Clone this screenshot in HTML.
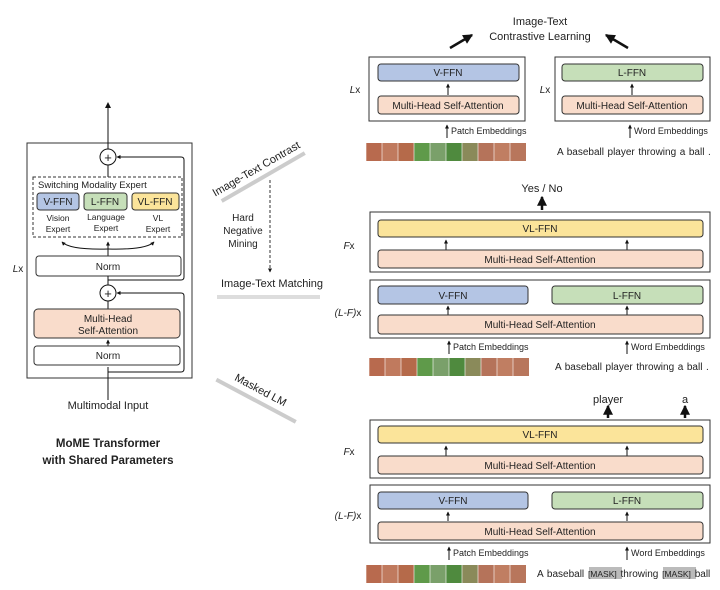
<!DOCTYPE html>
<html><head><meta charset="utf-8"><style>
body{margin:0;background:#fff;}
svg text{font-family:"Liberation Sans",sans-serif;fill:#222;}
</style></head><body>
<svg width="720" height="585" viewBox="0 0 720 585" xmlns="http://www.w3.org/2000/svg">
<defs>
<marker id="a" markerWidth="6" markerHeight="6" refX="5" refY="3" orient="auto"><path d="M0,0 L6,3 L0,6 z" fill="#111"/></marker>
<marker id="b" markerWidth="4" markerHeight="4" refX="3.5" refY="2" orient="auto"><path d="M0,0 L4,2 L0,4 z" fill="#111"/></marker>
<g id="tiles">
<rect x="0" y="0" width="16" height="18" fill="#b86a4e"/><rect x="16" y="0" width="16" height="18" fill="#c07a5e"/><rect x="32" y="0" width="16" height="18" fill="#b56a4a"/>
<rect x="48" y="0" width="16" height="18" fill="#5f9a4a"/><rect x="64" y="0" width="16" height="18" fill="#7aa06a"/><rect x="80" y="0" width="16" height="18" fill="#4f8a3e"/>
<rect x="96" y="0" width="16" height="18" fill="#8a8a5a"/><rect x="112" y="0" width="16" height="18" fill="#b5735a"/><rect x="128" y="0" width="16" height="18" fill="#c07e62"/><rect x="144" y="0" width="16" height="18" fill="#b8765c"/>
<g stroke="#fff" stroke-width="0.6"><line x1="0" y1="0" x2="0" y2="18"/><line x1="16" y1="0" x2="16" y2="18"/><line x1="32" y1="0" x2="32" y2="18"/><line x1="48" y1="0" x2="48" y2="18"/><line x1="64" y1="0" x2="64" y2="18"/><line x1="80" y1="0" x2="80" y2="18"/><line x1="96" y1="0" x2="96" y2="18"/><line x1="112" y1="0" x2="112" y2="18"/><line x1="128" y1="0" x2="128" y2="18"/><line x1="144" y1="0" x2="144" y2="18"/></g>
</g>
</defs>
<g font-size="10" text-anchor="middle" stroke-width="1">
<!-- LEFT -->
<rect x="27" y="143" width="165" height="235" fill="none" stroke="#333"/>
<line x1="108" y1="378" x2="108" y2="367" stroke="#111"/>
<line x1="108" y1="400" x2="108" y2="378" stroke="#111"/>
<line x1="108" y1="149" x2="108" y2="103" stroke="#111" marker-end="url(#a)"/>
<circle cx="108" cy="157" r="8" fill="#fff" stroke="#111"/><text x="108" y="162" font-size="13">+</text>
<line x1="108" y1="165" x2="108" y2="177" stroke="#111"/>
<rect x="33" y="177" width="149" height="60" fill="none" stroke="#333" stroke-dasharray="3,2"/>
<text x="38" y="188" text-anchor="start" font-size="9.5">Switching Modality Expert</text>
<rect x="37" y="193" width="42" height="17" rx="3" fill="#b4c5e4" stroke="#333"/><text x="58" y="205">V-FFN</text>
<rect x="84" y="193" width="43" height="17" rx="3" fill="#c6dfb9" stroke="#333"/><text x="105" y="205">L-FFN</text>
<rect x="132" y="193" width="47" height="17" rx="3" fill="#fbe49a" stroke="#333"/><text x="155" y="205">VL-FFN</text>
<g font-size="8.5"><text x="58" y="221">Vision</text><text x="58" y="232">Expert</text><text x="106" y="220">Language</text><text x="106" y="231">Expert</text><text x="158" y="221">VL</text><text x="158" y="232">Expert</text></g>
<line x1="108" y1="256" x2="108" y2="242" stroke="#111" marker-end="url(#b)"/>
<path d="M108,249 Q70,250 62,242" fill="none" stroke="#111" marker-end="url(#b)"/>
<path d="M108,249 Q146,250 154,242" fill="none" stroke="#111" marker-end="url(#b)"/>
<rect x="36" y="256" width="145" height="20" rx="3" fill="#fff" stroke="#333"/><text x="108" y="270">Norm</text>
<line x1="108" y1="276" x2="108" y2="285" stroke="#111"/>
<circle cx="108" cy="293" r="8" fill="#fff" stroke="#111"/><text x="108" y="298" font-size="13">+</text>
<line x1="108" y1="301" x2="108" y2="309" stroke="#111"/>
<path d="M108,280 L181,280 Q184,280 184,277 L184,160 Q184,157 181,157 L117,157" fill="none" stroke="#111" marker-end="url(#b)"/>
<rect x="34" y="309" width="146" height="29" rx="4" fill="#f9dccb" stroke="#333"/><text x="108" y="322">Multi-Head</text><text x="108" y="334">Self-Attention</text>
<line x1="108" y1="346" x2="108" y2="340" stroke="#111" marker-end="url(#b)"/>
<rect x="34" y="346" width="146" height="19" rx="3" fill="#fff" stroke="#333"/><text x="108" y="359">Norm</text>
<path d="M108,372 L181,372 Q184,372 184,369 L184,296 Q184,293 181,293 L117,293" fill="none" stroke="#111" marker-end="url(#b)"/>
<text x="18" y="272" font-family="Liberation Serif" font-style="italic">L<tspan font-style="normal" font-family="Liberation Sans">x</tspan></text>
<text x="108" y="409" font-size="11">Multimodal Input</text>
<text x="108" y="447" font-size="11.5" font-weight="bold">MoME Transformer</text>
<text x="108" y="464" font-size="11.5" font-weight="bold">with Shared Parameters</text>

<!-- MIDDLE -->
<g transform="rotate(-30 258 172)"><text x="258" y="172" font-size="11">Image-Text Contrast</text><rect x="212" y="177" width="96" height="4" fill="#ccc"/></g>
<line x1="270" y1="180" x2="270" y2="272" stroke="#333" stroke-dasharray="3,2" marker-end="url(#b)"/>
<text x="243" y="221">Hard</text><text x="243" y="234">Negative</text><text x="243" y="247">Mining</text>
<text x="272" y="287" font-size="11">Image-Text Matching</text>
<rect x="217" y="295" width="103" height="4" fill="#ddd"/>
<g transform="rotate(28 258 395)"><text x="258" y="393" font-size="11">Masked LM</text><rect x="214" y="399" width="90" height="4" fill="#ccc"/></g>

<!-- TOP RIGHT -->
<text x="540" y="25" font-size="11">Image-Text</text><text x="540" y="40" font-size="11">Contrastive Learning</text>
<line x1="450" y1="48" x2="472" y2="35" stroke="#111" stroke-width="2.5" marker-end="url(#b)"/>
<line x1="628" y1="48" x2="606" y2="35" stroke="#111" stroke-width="2.5" marker-end="url(#b)"/>
<rect x="369" y="57" width="156" height="64" fill="none" stroke="#333"/>
<rect x="378" y="64" width="141" height="17" rx="3" fill="#b4c5e4" stroke="#333"/><text x="448" y="76">V-FFN</text>
<line x1="448" y1="95" x2="448" y2="84" stroke="#111" marker-end="url(#b)"/>
<rect x="378" y="96" width="141" height="18" rx="3" fill="#f9dccb" stroke="#333"/><text x="448" y="109">Multi-Head Self-Attention</text>
<rect x="555" y="57" width="155" height="64" fill="none" stroke="#333"/>
<rect x="562" y="64" width="141" height="17" rx="3" fill="#c6dfb9" stroke="#333"/><text x="632" y="76">L-FFN</text>
<line x1="632" y1="95" x2="632" y2="84" stroke="#111" marker-end="url(#b)"/>
<rect x="562" y="96" width="141" height="18" rx="3" fill="#f9dccb" stroke="#333"/><text x="632" y="109">Multi-Head Self-Attention</text>
<g font-family="Liberation Serif" font-style="italic"><text x="355" y="93">L<tspan font-style="normal" font-family="Liberation Sans">x</tspan></text><text x="545" y="93">L<tspan font-style="normal" font-family="Liberation Sans">x</tspan></text></g>
<line x1="447" y1="138" x2="447" y2="125" stroke="#111" marker-end="url(#b)"/><text x="451" y="134" text-anchor="start" font-size="9">Patch Embeddings</text>
<line x1="630" y1="138" x2="630" y2="125" stroke="#111" marker-end="url(#b)"/><text x="634" y="134" text-anchor="start" font-size="9">Word Embeddings</text>
<use href="#tiles" x="366" y="143"/>
<text x="557" y="155" text-anchor="start" font-size="10" word-spacing="0.8">A baseball player throwing a ball .</text>

<!-- MIDDLE RIGHT -->
<text x="542" y="192" font-size="11">Yes / No</text>
<line x1="542" y1="210" x2="542" y2="197" stroke="#111" stroke-width="2.5" marker-end="url(#b)"/>
<rect x="370" y="212" width="340" height="60" fill="none" stroke="#333"/>
<rect x="378" y="220" width="325" height="17" rx="3" fill="#fbe49a" stroke="#333"/><text x="540" y="232">VL-FFN</text>
<line x1="446" y1="250" x2="446" y2="240" stroke="#111" marker-end="url(#b)"/><line x1="627" y1="250" x2="627" y2="240" stroke="#111" marker-end="url(#b)"/>
<rect x="378" y="250" width="325" height="18" rx="3" fill="#f9dccb" stroke="#333"/><text x="540" y="263">Multi-Head Self-Attention</text>
<rect x="370" y="280" width="340" height="58" fill="none" stroke="#333"/>
<rect x="378" y="286" width="150" height="18" rx="3" fill="#b4c5e4" stroke="#333"/><text x="453" y="299">V-FFN</text>
<rect x="552" y="286" width="151" height="18" rx="3" fill="#c6dfb9" stroke="#333"/><text x="627" y="299">L-FFN</text>
<line x1="448" y1="315" x2="448" y2="306" stroke="#111" marker-end="url(#b)"/><line x1="627" y1="315" x2="627" y2="306" stroke="#111" marker-end="url(#b)"/>
<rect x="378" y="315" width="325" height="19" rx="3" fill="#f9dccb" stroke="#333"/><text x="540" y="328">Multi-Head Self-Attention</text>
<g font-family="Liberation Serif" font-style="italic"><text x="349" y="249">F<tspan font-style="normal" font-family="Liberation Sans">x</tspan></text><text x="348" y="316">(L-F)<tspan font-style="normal" font-family="Liberation Sans">x</tspan></text></g>
<line x1="449" y1="354" x2="449" y2="341" stroke="#111" marker-end="url(#b)"/><text x="453" y="350" text-anchor="start" font-size="9">Patch Embeddings</text>
<line x1="627" y1="354" x2="627" y2="341" stroke="#111" marker-end="url(#b)"/><text x="631" y="350" text-anchor="start" font-size="9">Word Embeddings</text>
<use href="#tiles" x="369" y="358"/>
<text x="555" y="370" text-anchor="start" font-size="10" word-spacing="0.8">A baseball player throwing a ball .</text>

<!-- BOTTOM RIGHT -->
<text x="608" y="403" font-size="11">player</text><text x="685" y="403" font-size="11">a</text>
<line x1="608" y1="418" x2="608" y2="406" stroke="#111" stroke-width="2.5" marker-end="url(#b)"/>
<line x1="685" y1="418" x2="685" y2="406" stroke="#111" stroke-width="2.5" marker-end="url(#b)"/>
<rect x="370" y="420" width="340" height="58" fill="none" stroke="#333"/>
<rect x="378" y="426" width="325" height="17" rx="3" fill="#fbe49a" stroke="#333"/><text x="540" y="438">VL-FFN</text>
<line x1="446" y1="456" x2="446" y2="446" stroke="#111" marker-end="url(#b)"/><line x1="627" y1="456" x2="627" y2="446" stroke="#111" marker-end="url(#b)"/>
<rect x="378" y="456" width="325" height="18" rx="3" fill="#f9dccb" stroke="#333"/><text x="540" y="469">Multi-Head Self-Attention</text>
<rect x="370" y="485" width="340" height="58" fill="none" stroke="#333"/>
<rect x="378" y="492" width="150" height="17" rx="3" fill="#b4c5e4" stroke="#333"/><text x="453" y="504">V-FFN</text>
<rect x="552" y="492" width="151" height="17" rx="3" fill="#c6dfb9" stroke="#333"/><text x="627" y="504">L-FFN</text>
<line x1="448" y1="521" x2="448" y2="512" stroke="#111" marker-end="url(#b)"/><line x1="627" y1="521" x2="627" y2="512" stroke="#111" marker-end="url(#b)"/>
<rect x="378" y="522" width="325" height="18" rx="3" fill="#f9dccb" stroke="#333"/><text x="540" y="535">Multi-Head Self-Attention</text>
<g font-family="Liberation Serif" font-style="italic"><text x="349" y="455">F<tspan font-style="normal" font-family="Liberation Sans">x</tspan></text><text x="348" y="519">(L-F)<tspan font-style="normal" font-family="Liberation Sans">x</tspan></text></g>
<line x1="449" y1="560" x2="449" y2="547" stroke="#111" marker-end="url(#b)"/><text x="453" y="556" text-anchor="start" font-size="9">Patch Embeddings</text>
<line x1="627" y1="560" x2="627" y2="547" stroke="#111" marker-end="url(#b)"/><text x="631" y="556" text-anchor="start" font-size="9">Word Embeddings</text>
<use href="#tiles" x="366" y="565"/>
<rect x="589" y="567" width="33" height="12" fill="#bbb"/><rect x="663" y="567" width="33" height="12" fill="#bbb"/>
<text x="537" y="577" text-anchor="start" font-size="10" word-spacing="1">A baseball <tspan font-size="8.5">[MASK]</tspan> throwing <tspan font-size="8.5">[MASK]</tspan> ball</text>
</g>
</svg>
</body></html>
